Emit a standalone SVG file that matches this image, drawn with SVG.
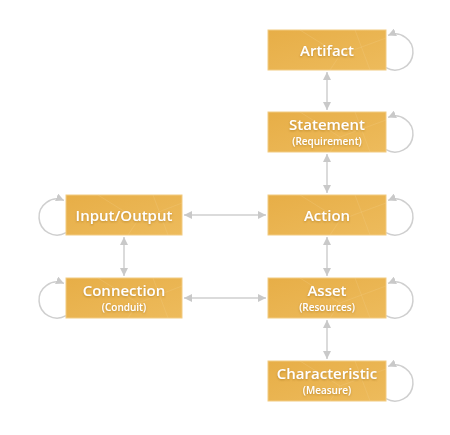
<svg xmlns="http://www.w3.org/2000/svg" width="450" height="435" viewBox="0 0 450 435">
<defs>
<linearGradient id="g" x1="0" y1="0" x2="1" y2="1">
<stop offset="0" stop-color="#E7AE47"/>
<stop offset="1" stop-color="#EDBB5C"/>
</linearGradient>
<marker id="ah" viewBox="0 0 10 10" refX="10" refY="5" markerWidth="8" markerHeight="8" markerUnits="userSpaceOnUse" orient="auto-start-reverse">
<path d="M0,0 L10,5 L0,10 Z" fill="#c9c9c9"/>
</marker>
<filter id="ts" x="-10%" y="-30%" width="120%" height="160%">
<feDropShadow dx="0" dy="1" stdDeviation="0.8" flood-color="#8a5a10" flood-opacity="0.45"/>
</filter>
</defs>
<style>
.box{fill:url(#g);stroke:#F2CB82;stroke-width:1}
.tex{fill:none;stroke:#F4D08C;stroke-width:0.5;opacity:0.5}
.t{font-family:"Open Sans","Liberation Sans",sans-serif;font-weight:600;font-size:15px;fill:#fff;text-anchor:middle;filter:url(#ts)}
.s{font-family:"Open Sans","Liberation Sans",sans-serif;font-weight:600;font-size:10px;fill:#fff;text-anchor:middle;filter:url(#ts)}
.c{fill:none;stroke:#cfcfcf;stroke-width:1.5}
</style>
<rect width="450" height="435" fill="#fff"/>
<g id="connectors">
<path class="c" d="M327 72 L327 110" marker-start="url(#ah)" marker-end="url(#ah)"/>
<path class="c" d="M327 154 L327 193" marker-start="url(#ah)" marker-end="url(#ah)"/>
<path class="c" d="M327 237 L327 276" marker-start="url(#ah)" marker-end="url(#ah)"/>
<path class="c" d="M327 320 L327 359" marker-start="url(#ah)" marker-end="url(#ah)"/>
<path class="c" d="M124 237 L124 276" marker-start="url(#ah)" marker-end="url(#ah)"/>
<path class="c" d="M184 215 L266 215" marker-start="url(#ah)" marker-end="url(#ah)"/>
<path class="c" d="M184 298 L266 298" marker-start="url(#ah)" marker-end="url(#ah)"/>
<path class="c" d="M386 67.6 A18 18 0 1 0 388 35.4" marker-end="url(#ah)"/>
<path class="c" d="M386 149.6 A18 18 0 1 0 388 117.4" marker-end="url(#ah)"/>
<path class="c" d="M386 232.6 A18 18 0 1 0 388 200.4" marker-end="url(#ah)"/>
<path class="c" d="M386 315.6 A18 18 0 1 0 388 283.4" marker-end="url(#ah)"/>
<path class="c" d="M386 398.6 A18 18 0 1 0 388 366.4" marker-end="url(#ah)"/>
<path class="c" d="M66 232.6 A18 18 0 1 1 64 200.4" marker-end="url(#ah)"/>
<path class="c" d="M66 315.6 A18 18 0 1 1 64 283.4" marker-end="url(#ah)"/>
</g>
<g id="artifact">
<rect class="box" x="268" y="30" width="118" height="40"/>
<path class="tex" d="M300 30 L340 55 L386 38 M340 55 L330 70 M355 30 L370 70"/>
<text class="t" x="327" y="55.5">Artifact</text>
</g>
<g id="statement">
<rect class="box" x="268" y="112" width="118" height="40"/>
<path class="tex" d="M300 112 L340 137 L386 120 M340 137 L330 152 M355 112 L370 152"/>
<text class="t" x="327" y="130">Statement</text>
<text class="s" x="327" y="145">(Requirement)</text>
</g>
<g id="action">
<rect class="box" x="268" y="195" width="118" height="40"/>
<path class="tex" d="M300 195 L340 220 L386 203 M340 220 L330 235 M355 195 L370 235"/>
<text class="t" x="327" y="220.5">Action</text>
</g>
<g id="asset">
<rect class="box" x="268" y="278" width="118" height="40"/>
<path class="tex" d="M300 278 L340 303 L386 286 M340 303 L330 318 M355 278 L370 318"/>
<text class="t" x="327" y="296">Asset</text>
<text class="s" x="327" y="311">(Resources)</text>
</g>
<g id="characteristic">
<rect class="box" x="268" y="361" width="118" height="40"/>
<path class="tex" d="M300 361 L340 386 L386 369 M340 386 L330 401 M355 361 L370 401"/>
<text class="t" x="327" y="379">Characteristic</text>
<text class="s" x="327" y="394">(Measure)</text>
</g>
<g id="input-output">
<rect class="box" x="66" y="195" width="116" height="40"/>
<path class="tex" d="M98 195 L138 220 L182 203 M138 220 L128 235 M153 195 L168 235"/>
<text class="t" x="124" y="220.5">Input/Output</text>
</g>
<g id="connection">
<rect class="box" x="66" y="278" width="116" height="40"/>
<path class="tex" d="M98 278 L138 303 L182 286 M138 303 L128 318 M153 278 L168 318"/>
<text class="t" x="124" y="296">Connection</text>
<text class="s" x="124" y="311">(Conduit)</text>
</g>
</svg>
